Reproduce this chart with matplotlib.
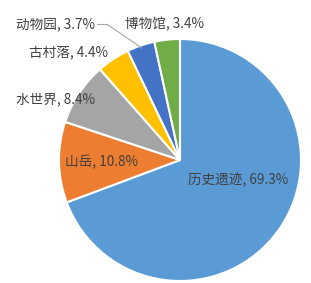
import numpy as np
import matplotlib
matplotlib.use('Agg')
import matplotlib.pyplot as plt

plt.rcParams['font.family'] = ['Noto Sans CJK SC', 'DejaVu Sans']

labels = ['历史遗迹', '山岳', '水世界', '古村落', '动物园', '博物馆']
shares = [69.3, 10.8, 8.4, 4.4, 3.7, 3.4]
colors = ['#5B9BD5', '#ED7D31', '#A5A5A5', '#FFC000', '#4472C4', '#70AD47']

# label positions (data coords, pie radius = 1), placed like the original
label_pos = [(0.48, -0.165), (-0.65, -0.02), (-1.03, 0.50),
             (-0.92, 0.89), (-1.03, 1.12), (-0.13, 1.12)]

fig = plt.figure(figsize=(3.11, 2.83), dpi=100)
ax = fig.add_axes([59 / 311, 2 / 283, 242 / 311, 242 / 283])

wedges, _ = ax.pie(shares, colors=colors, startangle=90, counterclock=False,
                   wedgeprops=dict(edgecolor='white', linewidth=1.5))

for lab, val, (x, y) in zip(labels, shares, label_pos):
    ax.text(x, y, f'{lab}, {val}%', ha='center', va='center',
            fontsize=9.8, color='#404040')

# leader line for 动物园
w = wedges[4]
mid = np.deg2rad((w.theta1 + w.theta2) / 2)
ex, ey = np.cos(mid) * 0.98, np.sin(mid) * 0.98
ax.plot([-0.68, -0.60, ex], [1.12, 1.12, ey], color='#A6A6A6', lw=0.8,
        clip_on=False)

ax.set_xlim(-1, 1)
ax.set_ylim(-1, 1)
ax.set_aspect('equal')
ax.axis('off')

fig.savefig('out.png', dpi=100)
